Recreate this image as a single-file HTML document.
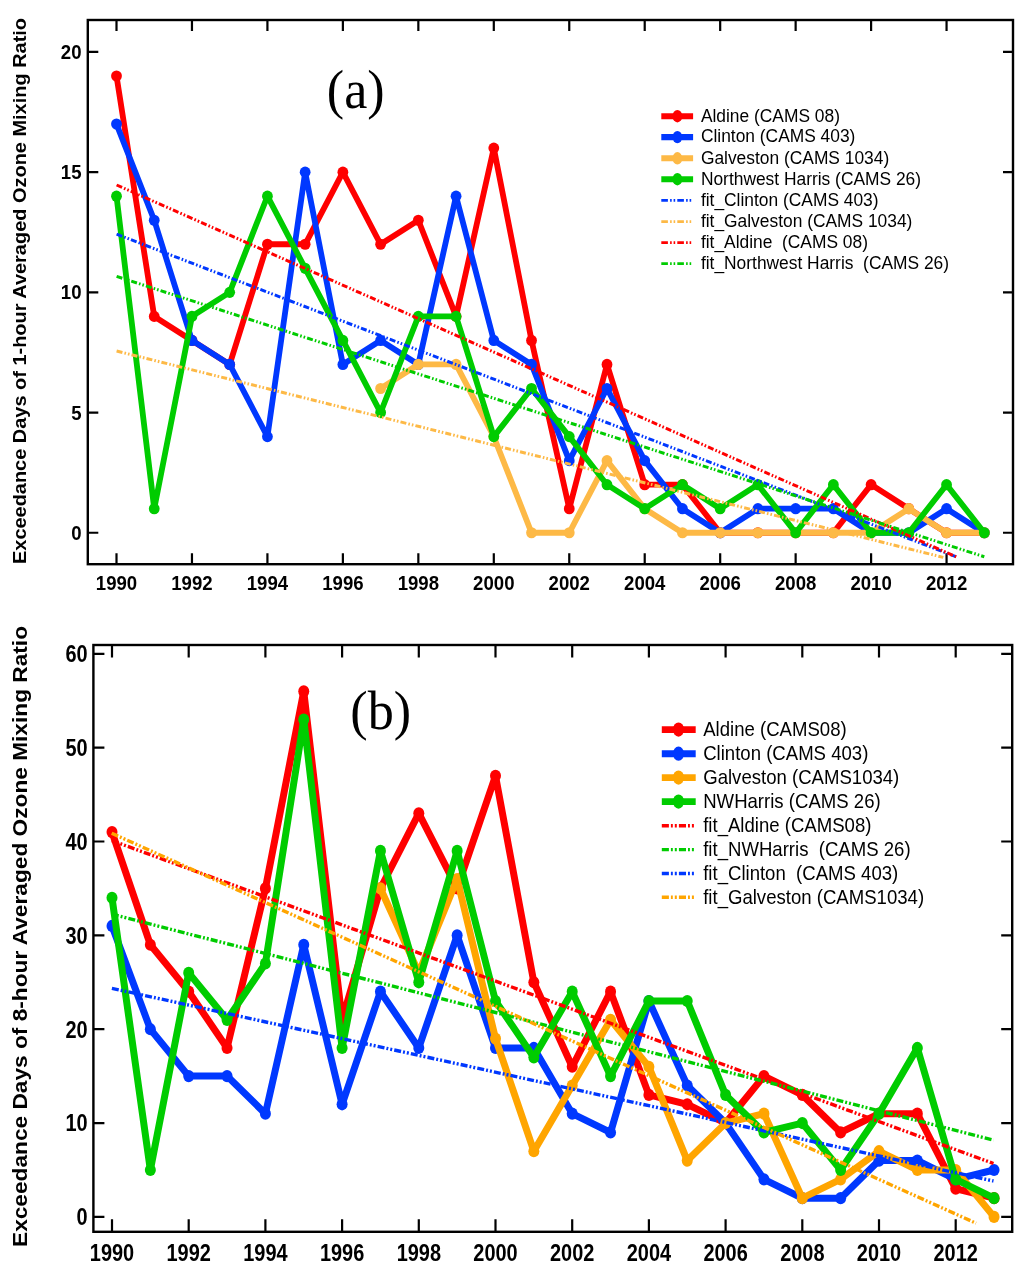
<!DOCTYPE html><html><head><meta charset="utf-8"><style>html,body{margin:0;padding:0;background:#fff;}svg{display:block;will-change:transform;}</style></head><body>
<svg width="1024" height="1271" viewBox="0 0 1024 1271">
<rect x="0" y="0" width="1024" height="1271" fill="#fff"/>
<rect x="87.8" y="20" width="925.2" height="544.2" fill="none" stroke="#000" stroke-width="2.4"/>
<path d="M116.5 20V31M116.5 564.2V553.2M191.96 20V31M191.96 564.2V553.2M267.42 20V31M267.42 564.2V553.2M342.88 20V31M342.88 564.2V553.2M418.34 20V31M418.34 564.2V553.2M493.8 20V31M493.8 564.2V553.2M569.26 20V31M569.26 564.2V553.2M644.72 20V31M644.72 564.2V553.2M720.18 20V31M720.18 564.2V553.2M795.64 20V31M795.64 564.2V553.2M871.1 20V31M871.1 564.2V553.2M946.56 20V31M946.56 564.2V553.2M87.8 532.75H98.3M1013 532.75H1003M87.8 412.55H98.3M1013 412.55H1003M87.8 292.35H98.3M1013 292.35H1003M87.8 172.15H98.3M1013 172.15H1003M87.8 51.95H98.3M1013 51.95H1003" stroke="#000" stroke-width="2.2" fill="none"/>
<g font-family="Liberation Sans" font-weight="bold" font-size="20" fill="#000">
<text transform="translate(116.5,590) scale(0.93,1)" text-anchor="middle">1990</text>
<text transform="translate(191.96,590) scale(0.93,1)" text-anchor="middle">1992</text>
<text transform="translate(267.42,590) scale(0.93,1)" text-anchor="middle">1994</text>
<text transform="translate(342.88,590) scale(0.93,1)" text-anchor="middle">1996</text>
<text transform="translate(418.34,590) scale(0.93,1)" text-anchor="middle">1998</text>
<text transform="translate(493.8,590) scale(0.93,1)" text-anchor="middle">2000</text>
<text transform="translate(569.26,590) scale(0.93,1)" text-anchor="middle">2002</text>
<text transform="translate(644.72,590) scale(0.93,1)" text-anchor="middle">2004</text>
<text transform="translate(720.18,590) scale(0.93,1)" text-anchor="middle">2006</text>
<text transform="translate(795.64,590) scale(0.93,1)" text-anchor="middle">2008</text>
<text transform="translate(871.1,590) scale(0.93,1)" text-anchor="middle">2010</text>
<text transform="translate(946.56,590) scale(0.93,1)" text-anchor="middle">2012</text>
<text transform="translate(81.5,539.75) scale(0.93,1)" text-anchor="end">0</text>
<text transform="translate(81.5,419.55) scale(0.93,1)" text-anchor="end">5</text>
<text transform="translate(81.5,299.35) scale(0.93,1)" text-anchor="end">10</text>
<text transform="translate(81.5,179.15) scale(0.93,1)" text-anchor="end">15</text>
<text transform="translate(81.5,58.95) scale(0.93,1)" text-anchor="end">20</text>
</g>
<text transform="translate(25.8,564) rotate(-90)" font-family="Liberation Sans" font-weight="bold" font-size="19.2" textLength="546" lengthAdjust="spacingAndGlyphs">Exceedance Days of 1-hour Averaged Ozone Mixing Ratio</text>
<polyline points="116.5,75.99 154.23,316.39 191.96,340.43 229.69,364.47 267.42,244.27 305.15,244.27 342.88,172.15 380.61,244.27 418.34,220.23 456.07,316.39 493.8,148.11 531.53,340.43 569.26,508.71 606.99,364.47 644.72,484.67 682.45,484.67 720.18,532.75 757.91,532.75 795.64,532.75 833.37,532.75 871.1,484.67 908.83,508.71 946.56,532.75 984.29,532.75" fill="none" stroke="#FF0000" stroke-width="5.8" stroke-linejoin="miter" stroke-miterlimit="1.8"/>
<g fill="#FF0000"><ellipse cx="116.5" cy="75.99" rx="5.4" ry="5.6"/><ellipse cx="154.23" cy="316.39" rx="5.4" ry="5.6"/><ellipse cx="191.96" cy="340.43" rx="5.4" ry="5.6"/><ellipse cx="229.69" cy="364.47" rx="5.4" ry="5.6"/><ellipse cx="267.42" cy="244.27" rx="5.4" ry="5.6"/><ellipse cx="305.15" cy="244.27" rx="5.4" ry="5.6"/><ellipse cx="342.88" cy="172.15" rx="5.4" ry="5.6"/><ellipse cx="380.61" cy="244.27" rx="5.4" ry="5.6"/><ellipse cx="418.34" cy="220.23" rx="5.4" ry="5.6"/><ellipse cx="456.07" cy="316.39" rx="5.4" ry="5.6"/><ellipse cx="493.8" cy="148.11" rx="5.4" ry="5.6"/><ellipse cx="531.53" cy="340.43" rx="5.4" ry="5.6"/><ellipse cx="569.26" cy="508.71" rx="5.4" ry="5.6"/><ellipse cx="606.99" cy="364.47" rx="5.4" ry="5.6"/><ellipse cx="644.72" cy="484.67" rx="5.4" ry="5.6"/><ellipse cx="682.45" cy="484.67" rx="5.4" ry="5.6"/><ellipse cx="720.18" cy="532.75" rx="5.4" ry="5.6"/><ellipse cx="757.91" cy="532.75" rx="5.4" ry="5.6"/><ellipse cx="795.64" cy="532.75" rx="5.4" ry="5.6"/><ellipse cx="833.37" cy="532.75" rx="5.4" ry="5.6"/><ellipse cx="871.1" cy="484.67" rx="5.4" ry="5.6"/><ellipse cx="908.83" cy="508.71" rx="5.4" ry="5.6"/><ellipse cx="946.56" cy="532.75" rx="5.4" ry="5.6"/><ellipse cx="984.29" cy="532.75" rx="5.4" ry="5.6"/></g>
<polyline points="116.5,124.07 154.23,220.23 191.96,340.43 229.69,364.47 267.42,436.59 305.15,172.15 342.88,364.47 380.61,340.43 418.34,364.47 456.07,196.19 493.8,340.43 531.53,364.47 569.26,460.63 606.99,388.51 644.72,460.63 682.45,508.71 720.18,532.75 757.91,508.71 795.64,508.71 833.37,508.71 871.1,532.75 908.83,532.75 946.56,508.71 984.29,532.75" fill="none" stroke="#0038FF" stroke-width="5.8" stroke-linejoin="miter" stroke-miterlimit="1.8"/>
<g fill="#0038FF"><ellipse cx="116.5" cy="124.07" rx="5.4" ry="5.6"/><ellipse cx="154.23" cy="220.23" rx="5.4" ry="5.6"/><ellipse cx="191.96" cy="340.43" rx="5.4" ry="5.6"/><ellipse cx="229.69" cy="364.47" rx="5.4" ry="5.6"/><ellipse cx="267.42" cy="436.59" rx="5.4" ry="5.6"/><ellipse cx="305.15" cy="172.15" rx="5.4" ry="5.6"/><ellipse cx="342.88" cy="364.47" rx="5.4" ry="5.6"/><ellipse cx="380.61" cy="340.43" rx="5.4" ry="5.6"/><ellipse cx="418.34" cy="364.47" rx="5.4" ry="5.6"/><ellipse cx="456.07" cy="196.19" rx="5.4" ry="5.6"/><ellipse cx="493.8" cy="340.43" rx="5.4" ry="5.6"/><ellipse cx="531.53" cy="364.47" rx="5.4" ry="5.6"/><ellipse cx="569.26" cy="460.63" rx="5.4" ry="5.6"/><ellipse cx="606.99" cy="388.51" rx="5.4" ry="5.6"/><ellipse cx="644.72" cy="460.63" rx="5.4" ry="5.6"/><ellipse cx="682.45" cy="508.71" rx="5.4" ry="5.6"/><ellipse cx="720.18" cy="532.75" rx="5.4" ry="5.6"/><ellipse cx="757.91" cy="508.71" rx="5.4" ry="5.6"/><ellipse cx="795.64" cy="508.71" rx="5.4" ry="5.6"/><ellipse cx="833.37" cy="508.71" rx="5.4" ry="5.6"/><ellipse cx="871.1" cy="532.75" rx="5.4" ry="5.6"/><ellipse cx="908.83" cy="532.75" rx="5.4" ry="5.6"/><ellipse cx="946.56" cy="508.71" rx="5.4" ry="5.6"/><ellipse cx="984.29" cy="532.75" rx="5.4" ry="5.6"/></g>
<polyline points="380.61,388.51 418.34,364.47 456.07,364.47 493.8,436.59 531.53,532.75 569.26,532.75 606.99,460.63 644.72,508.71 682.45,532.75 720.18,532.75 757.91,532.75 795.64,532.75 833.37,532.75 871.1,532.75 908.83,508.71 946.56,532.75 984.29,532.75" fill="none" stroke="#FDB946" stroke-width="5.8" stroke-linejoin="miter" stroke-miterlimit="1.8"/>
<g fill="#FDB946"><ellipse cx="380.61" cy="388.51" rx="5.4" ry="5.6"/><ellipse cx="418.34" cy="364.47" rx="5.4" ry="5.6"/><ellipse cx="456.07" cy="364.47" rx="5.4" ry="5.6"/><ellipse cx="493.8" cy="436.59" rx="5.4" ry="5.6"/><ellipse cx="531.53" cy="532.75" rx="5.4" ry="5.6"/><ellipse cx="569.26" cy="532.75" rx="5.4" ry="5.6"/><ellipse cx="606.99" cy="460.63" rx="5.4" ry="5.6"/><ellipse cx="644.72" cy="508.71" rx="5.4" ry="5.6"/><ellipse cx="682.45" cy="532.75" rx="5.4" ry="5.6"/><ellipse cx="720.18" cy="532.75" rx="5.4" ry="5.6"/><ellipse cx="757.91" cy="532.75" rx="5.4" ry="5.6"/><ellipse cx="795.64" cy="532.75" rx="5.4" ry="5.6"/><ellipse cx="833.37" cy="532.75" rx="5.4" ry="5.6"/><ellipse cx="871.1" cy="532.75" rx="5.4" ry="5.6"/><ellipse cx="908.83" cy="508.71" rx="5.4" ry="5.6"/><ellipse cx="946.56" cy="532.75" rx="5.4" ry="5.6"/><ellipse cx="984.29" cy="532.75" rx="5.4" ry="5.6"/></g>
<polyline points="116.5,196.19 154.23,508.71 191.96,316.39 229.69,292.35 267.42,196.19 305.15,268.31 342.88,340.43 380.61,412.55 418.34,316.39 456.07,316.39 493.8,436.59 531.53,388.51 569.26,436.59 606.99,484.67 644.72,508.71 682.45,484.67 720.18,508.71 757.91,484.67 795.64,532.75 833.37,484.67 871.1,532.75 908.83,532.75 946.56,484.67 984.29,532.75" fill="none" stroke="#00CC00" stroke-width="5.8" stroke-linejoin="miter" stroke-miterlimit="1.8"/>
<g fill="#00CC00"><ellipse cx="116.5" cy="196.19" rx="5.4" ry="5.6"/><ellipse cx="154.23" cy="508.71" rx="5.4" ry="5.6"/><ellipse cx="191.96" cy="316.39" rx="5.4" ry="5.6"/><ellipse cx="229.69" cy="292.35" rx="5.4" ry="5.6"/><ellipse cx="267.42" cy="196.19" rx="5.4" ry="5.6"/><ellipse cx="305.15" cy="268.31" rx="5.4" ry="5.6"/><ellipse cx="342.88" cy="340.43" rx="5.4" ry="5.6"/><ellipse cx="380.61" cy="412.55" rx="5.4" ry="5.6"/><ellipse cx="418.34" cy="316.39" rx="5.4" ry="5.6"/><ellipse cx="456.07" cy="316.39" rx="5.4" ry="5.6"/><ellipse cx="493.8" cy="436.59" rx="5.4" ry="5.6"/><ellipse cx="531.53" cy="388.51" rx="5.4" ry="5.6"/><ellipse cx="569.26" cy="436.59" rx="5.4" ry="5.6"/><ellipse cx="606.99" cy="484.67" rx="5.4" ry="5.6"/><ellipse cx="644.72" cy="508.71" rx="5.4" ry="5.6"/><ellipse cx="682.45" cy="484.67" rx="5.4" ry="5.6"/><ellipse cx="720.18" cy="508.71" rx="5.4" ry="5.6"/><ellipse cx="757.91" cy="484.67" rx="5.4" ry="5.6"/><ellipse cx="795.64" cy="532.75" rx="5.4" ry="5.6"/><ellipse cx="833.37" cy="484.67" rx="5.4" ry="5.6"/><ellipse cx="871.1" cy="532.75" rx="5.4" ry="5.6"/><ellipse cx="908.83" cy="532.75" rx="5.4" ry="5.6"/><ellipse cx="946.56" cy="484.67" rx="5.4" ry="5.6"/><ellipse cx="984.29" cy="532.75" rx="5.4" ry="5.6"/></g>
<line x1="116.6" y1="234.2" x2="956.2" y2="556.8" stroke="#0038FF" stroke-width="3" stroke-dasharray="6 2.1 1.6 2 1.6 2.1"/>
<line x1="116.6" y1="351" x2="943.3" y2="557.4" stroke="#FDB946" stroke-width="3" stroke-dasharray="6 2.1 1.6 2 1.6 2.1"/>
<line x1="116.6" y1="185" x2="956.2" y2="556.8" stroke="#FF0000" stroke-width="3" stroke-dasharray="6 2.1 1.6 2 1.6 2.1"/>
<line x1="116.6" y1="276.4" x2="984.3" y2="556.8" stroke="#00CC00" stroke-width="3" stroke-dasharray="6 2.1 1.6 2 1.6 2.1"/>
<text transform="translate(326.8,107.8) scale(0.965,1)" font-family="Liberation Serif" font-size="54">(a)</text>
<line x1="661.3" y1="116.2" x2="693.1" y2="116.2" stroke="#FF0000" stroke-width="6.1"/>
<ellipse cx="677.4" cy="116.2" rx="4.9" ry="6.2" fill="#FF0000"/>
<text transform="translate(700.9,121.5) scale(0.94,1)" font-family="Liberation Sans" font-size="18.5" xml:space="preserve">Aldine (CAMS 08)</text>
<line x1="661.3" y1="137.1" x2="693.1" y2="137.1" stroke="#0038FF" stroke-width="6.1"/>
<ellipse cx="677.4" cy="137.1" rx="4.9" ry="6.2" fill="#0038FF"/>
<text transform="translate(700.9,142.4) scale(0.94,1)" font-family="Liberation Sans" font-size="18.5" xml:space="preserve">Clinton (CAMS 403)</text>
<line x1="661.3" y1="158.3" x2="693.1" y2="158.3" stroke="#FDB946" stroke-width="6.1"/>
<ellipse cx="677.4" cy="158.3" rx="4.9" ry="6.2" fill="#FDB946"/>
<text transform="translate(700.9,163.6) scale(0.94,1)" font-family="Liberation Sans" font-size="18.5" xml:space="preserve">Galveston (CAMS 1034)</text>
<line x1="661.3" y1="179.2" x2="693.1" y2="179.2" stroke="#00CC00" stroke-width="6.1"/>
<ellipse cx="677.4" cy="179.2" rx="4.9" ry="6.2" fill="#00CC00"/>
<text transform="translate(700.9,184.5) scale(0.94,1)" font-family="Liberation Sans" font-size="18.5" xml:space="preserve">Northwest Harris (CAMS 26)</text>
<line x1="661.3" y1="200.3" x2="693.1" y2="200.3" stroke="#0038FF" stroke-width="2.8" stroke-dasharray="6.6 2.2 1.6 1.9 1.6 2.1"/>
<text transform="translate(700.9,205.6) scale(0.94,1)" font-family="Liberation Sans" font-size="18.5" xml:space="preserve">fit_Clinton (CAMS 403)</text>
<line x1="661.3" y1="221.6" x2="693.1" y2="221.6" stroke="#FDB946" stroke-width="2.8" stroke-dasharray="6.6 2.2 1.6 1.9 1.6 2.1"/>
<text transform="translate(700.9,226.9) scale(0.94,1)" font-family="Liberation Sans" font-size="18.5" xml:space="preserve">fit_Galveston (CAMS 1034)</text>
<line x1="661.3" y1="242.6" x2="693.1" y2="242.6" stroke="#FF0000" stroke-width="2.8" stroke-dasharray="6.6 2.2 1.6 1.9 1.6 2.1"/>
<text transform="translate(700.9,247.9) scale(0.94,1)" font-family="Liberation Sans" font-size="18.5" xml:space="preserve">fit_Aldine  (CAMS 08)</text>
<line x1="661.3" y1="263.6" x2="693.1" y2="263.6" stroke="#00CC00" stroke-width="2.8" stroke-dasharray="6.6 2.2 1.6 1.9 1.6 2.1"/>
<text transform="translate(700.9,268.9) scale(0.94,1)" font-family="Liberation Sans" font-size="18.5" xml:space="preserve">fit_Northwest Harris  (CAMS 26)</text>
<rect x="93.4" y="645" width="918.8" height="586.8" fill="none" stroke="#000" stroke-width="2.4"/>
<path d="M112 645V657.5M112 1231.8V1219.3M188.7 645V657.5M188.7 1231.8V1219.3M265.4 645V657.5M265.4 1231.8V1219.3M342.1 645V657.5M342.1 1231.8V1219.3M418.8 645V657.5M418.8 1231.8V1219.3M495.5 645V657.5M495.5 1231.8V1219.3M572.2 645V657.5M572.2 1231.8V1219.3M648.9 645V657.5M648.9 1231.8V1219.3M725.6 645V657.5M725.6 1231.8V1219.3M802.3 645V657.5M802.3 1231.8V1219.3M879 645V657.5M879 1231.8V1219.3M955.7 645V657.5M955.7 1231.8V1219.3M93.4 1216.9H104.4M1012.2 1216.9H1001.2M93.4 1123.05H104.4M1012.2 1123.05H1001.2M93.4 1029.2H104.4M1012.2 1029.2H1001.2M93.4 935.35H104.4M1012.2 935.35H1001.2M93.4 841.5H104.4M1012.2 841.5H1001.2M93.4 747.65H104.4M1012.2 747.65H1001.2M93.4 653.8H104.4M1012.2 653.8H1001.2" stroke="#000" stroke-width="2.2" fill="none"/>
<g font-family="Liberation Sans" font-weight="bold" font-size="23.2" fill="#000">
<text transform="translate(112,1261.3) scale(0.86,1)" text-anchor="middle">1990</text>
<text transform="translate(188.7,1261.3) scale(0.86,1)" text-anchor="middle">1992</text>
<text transform="translate(265.4,1261.3) scale(0.86,1)" text-anchor="middle">1994</text>
<text transform="translate(342.1,1261.3) scale(0.86,1)" text-anchor="middle">1996</text>
<text transform="translate(418.8,1261.3) scale(0.86,1)" text-anchor="middle">1998</text>
<text transform="translate(495.5,1261.3) scale(0.86,1)" text-anchor="middle">2000</text>
<text transform="translate(572.2,1261.3) scale(0.86,1)" text-anchor="middle">2002</text>
<text transform="translate(648.9,1261.3) scale(0.86,1)" text-anchor="middle">2004</text>
<text transform="translate(725.6,1261.3) scale(0.86,1)" text-anchor="middle">2006</text>
<text transform="translate(802.3,1261.3) scale(0.86,1)" text-anchor="middle">2008</text>
<text transform="translate(879,1261.3) scale(0.86,1)" text-anchor="middle">2010</text>
<text transform="translate(955.7,1261.3) scale(0.86,1)" text-anchor="middle">2012</text>
<text transform="translate(87.6,1225.2) scale(0.86,1)" text-anchor="end">0</text>
<text transform="translate(87.6,1131.35) scale(0.86,1)" text-anchor="end">10</text>
<text transform="translate(87.6,1037.5) scale(0.86,1)" text-anchor="end">20</text>
<text transform="translate(87.6,943.65) scale(0.86,1)" text-anchor="end">30</text>
<text transform="translate(87.6,849.8) scale(0.86,1)" text-anchor="end">40</text>
<text transform="translate(87.6,755.95) scale(0.86,1)" text-anchor="end">50</text>
<text transform="translate(87.6,662.1) scale(0.86,1)" text-anchor="end">60</text>
</g>
<text transform="translate(26.9,1247) rotate(-90)" font-family="Liberation Sans" font-weight="bold" font-size="20.3" textLength="621" lengthAdjust="spacingAndGlyphs">Exceedance Days of 8-hour Averaged Ozone Mixing Ratio</text>
<polyline points="112,832.12 150.35,944.74 188.7,991.66 227.05,1047.97 265.4,888.43 303.75,691.34 342.1,1019.82 380.45,888.43 418.8,813.35 457.15,888.43 495.5,775.81 533.85,982.28 572.2,1066.74 610.55,991.66 648.9,1094.89 687.25,1104.28 725.6,1123.05 763.95,1076.12 802.3,1094.89 840.65,1132.44 879,1113.67 917.35,1113.67 955.7,1188.75 994.05,1198.13" fill="none" stroke="#FF0000" stroke-width="7" stroke-linejoin="miter" stroke-miterlimit="1.8"/>
<g fill="#FF0000"><ellipse cx="112" cy="832.12" rx="5.5" ry="6.1"/><ellipse cx="150.35" cy="944.74" rx="5.5" ry="6.1"/><ellipse cx="188.7" cy="991.66" rx="5.5" ry="6.1"/><ellipse cx="227.05" cy="1047.97" rx="5.5" ry="6.1"/><ellipse cx="265.4" cy="888.43" rx="5.5" ry="6.1"/><ellipse cx="303.75" cy="691.34" rx="5.5" ry="6.1"/><ellipse cx="342.1" cy="1019.82" rx="5.5" ry="6.1"/><ellipse cx="380.45" cy="888.43" rx="5.5" ry="6.1"/><ellipse cx="418.8" cy="813.35" rx="5.5" ry="6.1"/><ellipse cx="457.15" cy="888.43" rx="5.5" ry="6.1"/><ellipse cx="495.5" cy="775.81" rx="5.5" ry="6.1"/><ellipse cx="533.85" cy="982.28" rx="5.5" ry="6.1"/><ellipse cx="572.2" cy="1066.74" rx="5.5" ry="6.1"/><ellipse cx="610.55" cy="991.66" rx="5.5" ry="6.1"/><ellipse cx="648.9" cy="1094.89" rx="5.5" ry="6.1"/><ellipse cx="687.25" cy="1104.28" rx="5.5" ry="6.1"/><ellipse cx="725.6" cy="1123.05" rx="5.5" ry="6.1"/><ellipse cx="763.95" cy="1076.12" rx="5.5" ry="6.1"/><ellipse cx="802.3" cy="1094.89" rx="5.5" ry="6.1"/><ellipse cx="840.65" cy="1132.44" rx="5.5" ry="6.1"/><ellipse cx="879" cy="1113.67" rx="5.5" ry="6.1"/><ellipse cx="917.35" cy="1113.67" rx="5.5" ry="6.1"/><ellipse cx="955.7" cy="1188.75" rx="5.5" ry="6.1"/><ellipse cx="994.05" cy="1198.13" rx="5.5" ry="6.1"/></g>
<polyline points="112,925.97 150.35,1029.2 188.7,1076.12 227.05,1076.12 265.4,1113.67 303.75,944.74 342.1,1104.28 380.45,991.66 418.8,1047.97 457.15,935.35 495.5,1047.97 533.85,1047.97 572.2,1113.67 610.55,1132.44 648.9,1001.05 687.25,1085.51 725.6,1123.05 763.95,1179.36 802.3,1198.13 840.65,1198.13 879,1160.59 917.35,1160.59 955.7,1179.36 994.05,1169.98" fill="none" stroke="#0038FF" stroke-width="7" stroke-linejoin="miter" stroke-miterlimit="1.8"/>
<g fill="#0038FF"><ellipse cx="112" cy="925.97" rx="5.5" ry="6.1"/><ellipse cx="150.35" cy="1029.2" rx="5.5" ry="6.1"/><ellipse cx="188.7" cy="1076.12" rx="5.5" ry="6.1"/><ellipse cx="227.05" cy="1076.12" rx="5.5" ry="6.1"/><ellipse cx="265.4" cy="1113.67" rx="5.5" ry="6.1"/><ellipse cx="303.75" cy="944.74" rx="5.5" ry="6.1"/><ellipse cx="342.1" cy="1104.28" rx="5.5" ry="6.1"/><ellipse cx="380.45" cy="991.66" rx="5.5" ry="6.1"/><ellipse cx="418.8" cy="1047.97" rx="5.5" ry="6.1"/><ellipse cx="457.15" cy="935.35" rx="5.5" ry="6.1"/><ellipse cx="495.5" cy="1047.97" rx="5.5" ry="6.1"/><ellipse cx="533.85" cy="1047.97" rx="5.5" ry="6.1"/><ellipse cx="572.2" cy="1113.67" rx="5.5" ry="6.1"/><ellipse cx="610.55" cy="1132.44" rx="5.5" ry="6.1"/><ellipse cx="648.9" cy="1001.05" rx="5.5" ry="6.1"/><ellipse cx="687.25" cy="1085.51" rx="5.5" ry="6.1"/><ellipse cx="725.6" cy="1123.05" rx="5.5" ry="6.1"/><ellipse cx="763.95" cy="1179.36" rx="5.5" ry="6.1"/><ellipse cx="802.3" cy="1198.13" rx="5.5" ry="6.1"/><ellipse cx="840.65" cy="1198.13" rx="5.5" ry="6.1"/><ellipse cx="879" cy="1160.59" rx="5.5" ry="6.1"/><ellipse cx="917.35" cy="1160.59" rx="5.5" ry="6.1"/><ellipse cx="955.7" cy="1179.36" rx="5.5" ry="6.1"/><ellipse cx="994.05" cy="1169.98" rx="5.5" ry="6.1"/></g>
<polyline points="380.45,888.43 418.8,972.89 457.15,879.04 495.5,1038.59 533.85,1151.21 572.2,1085.51 610.55,1019.82 648.9,1066.74 687.25,1160.59 725.6,1123.05 763.95,1113.67 802.3,1198.13 840.65,1179.36 879,1151.21 917.35,1169.98 955.7,1169.98 994.05,1216.9" fill="none" stroke="#FFA500" stroke-width="7" stroke-linejoin="miter" stroke-miterlimit="1.8"/>
<g fill="#FFA500"><ellipse cx="380.45" cy="888.43" rx="5.5" ry="6.1"/><ellipse cx="418.8" cy="972.89" rx="5.5" ry="6.1"/><ellipse cx="457.15" cy="879.04" rx="5.5" ry="6.1"/><ellipse cx="495.5" cy="1038.59" rx="5.5" ry="6.1"/><ellipse cx="533.85" cy="1151.21" rx="5.5" ry="6.1"/><ellipse cx="572.2" cy="1085.51" rx="5.5" ry="6.1"/><ellipse cx="610.55" cy="1019.82" rx="5.5" ry="6.1"/><ellipse cx="648.9" cy="1066.74" rx="5.5" ry="6.1"/><ellipse cx="687.25" cy="1160.59" rx="5.5" ry="6.1"/><ellipse cx="725.6" cy="1123.05" rx="5.5" ry="6.1"/><ellipse cx="763.95" cy="1113.67" rx="5.5" ry="6.1"/><ellipse cx="802.3" cy="1198.13" rx="5.5" ry="6.1"/><ellipse cx="840.65" cy="1179.36" rx="5.5" ry="6.1"/><ellipse cx="879" cy="1151.21" rx="5.5" ry="6.1"/><ellipse cx="917.35" cy="1169.98" rx="5.5" ry="6.1"/><ellipse cx="955.7" cy="1169.98" rx="5.5" ry="6.1"/><ellipse cx="994.05" cy="1216.9" rx="5.5" ry="6.1"/></g>
<polyline points="112,897.81 150.35,1169.98 188.7,972.89 227.05,1019.82 265.4,963.51 303.75,719.5 342.1,1047.97 380.45,850.89 418.8,982.28 457.15,850.89 495.5,1001.05 533.85,1057.36 572.2,991.66 610.55,1076.12 648.9,1001.05 687.25,1001.05 725.6,1094.89 763.95,1132.44 802.3,1123.05 840.65,1169.98 879,1113.67 917.35,1047.97 955.7,1179.36 994.05,1198.13" fill="none" stroke="#00CC00" stroke-width="7" stroke-linejoin="miter" stroke-miterlimit="1.8"/>
<g fill="#00CC00"><ellipse cx="112" cy="897.81" rx="5.5" ry="6.1"/><ellipse cx="150.35" cy="1169.98" rx="5.5" ry="6.1"/><ellipse cx="188.7" cy="972.89" rx="5.5" ry="6.1"/><ellipse cx="227.05" cy="1019.82" rx="5.5" ry="6.1"/><ellipse cx="265.4" cy="963.51" rx="5.5" ry="6.1"/><ellipse cx="303.75" cy="719.5" rx="5.5" ry="6.1"/><ellipse cx="342.1" cy="1047.97" rx="5.5" ry="6.1"/><ellipse cx="380.45" cy="850.89" rx="5.5" ry="6.1"/><ellipse cx="418.8" cy="982.28" rx="5.5" ry="6.1"/><ellipse cx="457.15" cy="850.89" rx="5.5" ry="6.1"/><ellipse cx="495.5" cy="1001.05" rx="5.5" ry="6.1"/><ellipse cx="533.85" cy="1057.36" rx="5.5" ry="6.1"/><ellipse cx="572.2" cy="991.66" rx="5.5" ry="6.1"/><ellipse cx="610.55" cy="1076.12" rx="5.5" ry="6.1"/><ellipse cx="648.9" cy="1001.05" rx="5.5" ry="6.1"/><ellipse cx="687.25" cy="1001.05" rx="5.5" ry="6.1"/><ellipse cx="725.6" cy="1094.89" rx="5.5" ry="6.1"/><ellipse cx="763.95" cy="1132.44" rx="5.5" ry="6.1"/><ellipse cx="802.3" cy="1123.05" rx="5.5" ry="6.1"/><ellipse cx="840.65" cy="1169.98" rx="5.5" ry="6.1"/><ellipse cx="879" cy="1113.67" rx="5.5" ry="6.1"/><ellipse cx="917.35" cy="1047.97" rx="5.5" ry="6.1"/><ellipse cx="955.7" cy="1179.36" rx="5.5" ry="6.1"/><ellipse cx="994.05" cy="1198.13" rx="5.5" ry="6.1"/></g>
<line x1="111.9" y1="840.6" x2="993.5" y2="1163.5" stroke="#FF0000" stroke-width="3.4" stroke-dasharray="7 2 1.9 2 2 2.1"/>
<line x1="111.9" y1="914.2" x2="993.5" y2="1140.1" stroke="#00CC00" stroke-width="3.4" stroke-dasharray="7 2 1.9 2 2 2.1"/>
<line x1="111.9" y1="988.3" x2="993.5" y2="1181" stroke="#0038FF" stroke-width="3.4" stroke-dasharray="7 2 1.9 2 2 2.1"/>
<line x1="111.7" y1="833.2" x2="976" y2="1223.2" stroke="#FFA500" stroke-width="3.4" stroke-dasharray="7 2 1.9 2 2 2.1"/>
<text transform="translate(350.3,728.6) scale(0.965,1)" font-family="Liberation Serif" font-size="54">(b)</text>
<line x1="661.8" y1="729.6" x2="695.7" y2="729.6" stroke="#FF0000" stroke-width="6.9"/>
<ellipse cx="678.5" cy="729.6" rx="5.6" ry="7.1" fill="#FF0000"/>
<text transform="translate(703.2,735.8) scale(0.885,1)" font-family="Liberation Sans" font-size="21" xml:space="preserve">Aldine (CAMS08)</text>
<line x1="661.8" y1="753.7" x2="695.7" y2="753.7" stroke="#0038FF" stroke-width="6.9"/>
<ellipse cx="678.5" cy="753.7" rx="5.6" ry="7.1" fill="#0038FF"/>
<text transform="translate(703.2,759.9) scale(0.885,1)" font-family="Liberation Sans" font-size="21" xml:space="preserve">Clinton (CAMS 403)</text>
<line x1="661.8" y1="777.6" x2="695.7" y2="777.6" stroke="#FFA500" stroke-width="6.9"/>
<ellipse cx="678.5" cy="777.6" rx="5.6" ry="7.1" fill="#FFA500"/>
<text transform="translate(703.2,783.8) scale(0.885,1)" font-family="Liberation Sans" font-size="21" xml:space="preserve">Galveston (CAMS1034)</text>
<line x1="661.8" y1="801.6" x2="695.7" y2="801.6" stroke="#00CC00" stroke-width="6.9"/>
<ellipse cx="678.5" cy="801.6" rx="5.6" ry="7.1" fill="#00CC00"/>
<text transform="translate(703.2,807.8) scale(0.885,1)" font-family="Liberation Sans" font-size="21" xml:space="preserve">NWHarris (CAMS 26)</text>
<line x1="661.8" y1="825.8" x2="695.7" y2="825.8" stroke="#FF0000" stroke-width="3.4" stroke-dasharray="7.1 2 1.9 2 2 2.1"/>
<text transform="translate(703.2,832) scale(0.885,1)" font-family="Liberation Sans" font-size="21" xml:space="preserve">fit_Aldine (CAMS08)</text>
<line x1="661.8" y1="849.6" x2="695.7" y2="849.6" stroke="#00CC00" stroke-width="3.4" stroke-dasharray="7.1 2 1.9 2 2 2.1"/>
<text transform="translate(703.2,855.8) scale(0.885,1)" font-family="Liberation Sans" font-size="21" xml:space="preserve">fit_NWHarris  (CAMS 26)</text>
<line x1="661.8" y1="873.5" x2="695.7" y2="873.5" stroke="#0038FF" stroke-width="3.4" stroke-dasharray="7.1 2 1.9 2 2 2.1"/>
<text transform="translate(703.2,879.7) scale(0.885,1)" font-family="Liberation Sans" font-size="21" xml:space="preserve">fit_Clinton  (CAMS 403)</text>
<line x1="661.8" y1="897.3" x2="695.7" y2="897.3" stroke="#FFA500" stroke-width="3.4" stroke-dasharray="7.1 2 1.9 2 2 2.1"/>
<text transform="translate(703.2,903.5) scale(0.885,1)" font-family="Liberation Sans" font-size="21" xml:space="preserve">fit_Galveston (CAMS1034)</text>
</svg></body></html>
